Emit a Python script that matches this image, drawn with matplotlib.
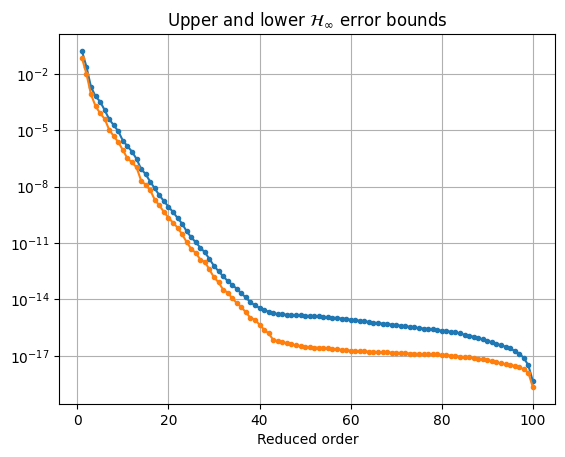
import numpy as np
import matplotlib
matplotlib.use("Agg")
import matplotlib.pyplot as plt

# reduced orders 1..100
orders = list(range(1, 101))

# log10 of the H-infinity error bounds
upper_log10 = [
    -0.78, -1.62, -2.70, -3.20, -3.48, -3.93, -4.42, -4.74, -5.06, -5.56,
    -5.85, -6.14, -6.53, -7.06, -7.34, -7.74, -8.10, -8.46, -8.77, -9.07,
    -9.35, -9.67, -9.97, -10.38, -10.70, -10.96, -11.25, -11.50, -11.85, -12.22,
    -12.50, -12.77, -13.02, -13.22, -13.44, -13.68, -13.90, -14.15, -14.32, -14.45,
    -14.56, -14.66, -14.75, -14.78, -14.80, -14.82, -14.83, -14.84, -14.85, -14.87,
    -14.88, -14.90, -14.91, -14.93, -14.95, -14.97, -14.99, -15.02, -15.04, -15.08,
    -15.11, -15.14, -15.17, -15.20, -15.24, -15.26, -15.29, -15.31, -15.34, -15.37,
    -15.40, -15.43, -15.46, -15.49, -15.53, -15.55, -15.58, -15.60, -15.63, -15.66,
    -15.69, -15.72, -15.76, -15.81, -15.88, -15.93, -15.99, -16.06, -16.13, -16.21,
    -16.28, -16.36, -16.44, -16.52, -16.61, -16.74, -16.88, -17.11, -17.50, -18.35,
]

lower_log10 = [
    -1.15, -2.00, -3.10, -3.72, -4.10, -4.40, -4.98, -5.32, -5.64, -6.06,
    -6.50, -6.71, -6.98, -7.68, -7.91, -8.19, -8.70, -9.00, -9.35, -9.65,
    -9.92, -10.18, -10.54, -10.95, -11.32, -11.53, -11.88, -12.01, -12.41, -12.83,
    -13.09, -13.48, -13.64, -13.94, -14.19, -14.41, -14.69, -14.98, -15.08, -15.35,
    -15.61, -15.81, -16.15, -16.22, -16.28, -16.33, -16.40, -16.45, -16.50, -16.52,
    -16.54, -16.56, -16.57, -16.58, -16.59, -16.62, -16.66, -16.68, -16.70, -16.73,
    -16.75, -16.77, -16.77, -16.78, -16.79, -16.80, -16.81, -16.82, -16.83, -16.84,
    -16.85, -16.87, -16.88, -16.89, -16.90, -16.91, -16.92, -16.93, -16.93, -16.95,
    -16.97, -16.99, -17.02, -17.04, -17.07, -17.09, -17.12, -17.15, -17.19, -17.23,
    -17.28, -17.34, -17.41, -17.46, -17.50, -17.54, -17.61, -17.72, -17.89, -18.67,
]

upper = np.power(10.0, upper_log10)
lower = np.power(10.0, lower_log10)

fig = plt.figure(figsize=(5.65, 4.57), dpi=100)
ax = fig.add_axes([0.105, 0.116, 0.878, 0.8096])
ax.semilogy(orders, upper, ".-")
ax.semilogy(orders, lower, ".-")
ax.set_title(r"Upper and lower $\mathcal{H}_\infty$ error bounds")
ax.set_xlabel("Reduced order")
ax.grid()

fig.savefig("out.png", dpi=100)
plt.close(fig)
